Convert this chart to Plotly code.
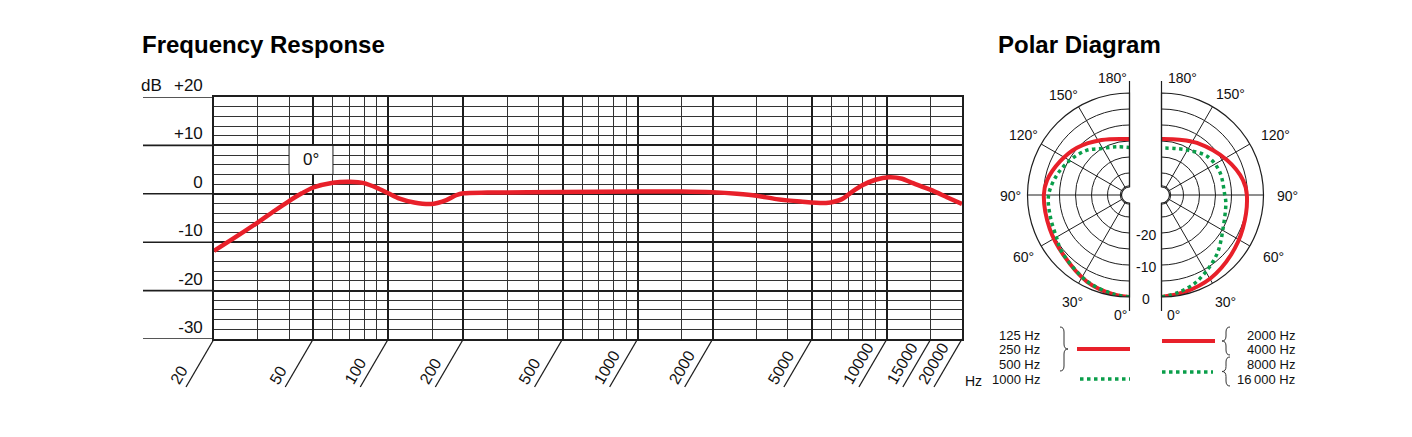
import numpy as np
import plotly.graph_objects as go

# ---------------- data ----------------
freq_hz = [20, 25, 30, 35, 40, 45, 50, 60, 70, 80, 92, 100, 111, 127, 150, 171, 187, 200,
           250, 500, 1000, 1500, 2000, 2500, 3000, 3600, 4500, 5700, 6600, 7200, 8000, 9000,
           10200, 11500, 12400, 15000, 17400, 20000]
response_db = [-11.8, -8.6, -5.9, -3.5, -1.5, 0.1, 1.3, 2.3, 2.5, 2.2, 1.0, 0.1, -1.0, -1.8, -2.1, -1.3, -0.3, 0.1,
               0.25, 0.35, 0.45, 0.45, 0.3, 0.0, -0.4, -1.1, -1.6, -1.9, -1.1, 0.3, 1.8, 2.9,
               3.4, 3.1, 2.4, 0.8, -0.7, -2.1]

freq_label_ticks = [20, 50, 100, 200, 500, 1000, 2000, 5000, 10000, 15000, 20000]
freq_major_grid = [20, 50, 100, 200, 500, 1000, 2000, 5000, 10000, 20000]
freq_minor_grid = [30, 40, 60, 70, 80, 90, 150, 300, 400, 600, 700, 800, 900, 1500,
                   3000, 4000, 6000, 7000, 8000, 9000, 15000]
db_ticks = [-30, -20, -10, 0, 10, 20]
db_ticktext = ["-30", "-20", "-10", "0", "+10", "+20"]

# polar (angle from 0 deg = front, dB)
left_red_theta = [0, 9, 26, 48, 67, 90, 100, 116, 132, 153, 180]
left_red_db = [0, -0.4, -1.7, -4.0, -4.8, -5.1, -5.7, -7.8, -9.8, -12.6, -14.4]
left_green_theta = [0, 9, 26, 50, 59, 76, 90, 105, 120, 136, 149, 165, 180]
left_green_db = [0, -0.5, -1.8, -4.25, -5.4, -6.25, -6.6, -8.3, -10.3, -12.5, -14.9, -16.3, -17.0]
right_red_theta = [0, 13.6, 30.8, 49.2, 67.9, 90, 100.4, 118.1, 145.7, 162, 180]
right_red_db = [0, -0.7, -1.7, -3.2, -4.4, -5.2, -6.0, -8.7, -12.2, -13.7, -14.4]
right_green_theta = [0, 10, 20.6, 27.4, 34, 45, 61.6, 82.7, 90, 112, 129.5, 149.5, 165, 180]
right_green_db = [0, -1.0, -2.4, -3.7, -4.9, -6.9, -10.0, -11.6, -12.1, -12.3, -13.1, -15.6, -16.8, -17.2]

polar_angle_labels = [0, 30, 60, 90, 120, 150, 180]
polar_db_labels = [0, -10, -20]
legend_left = ["125 Hz", "250 Hz", "500 Hz", "1000 Hz"]
legend_right = ["2000 Hz", "4000 Hz", "8000 Hz", "16\u2009000 Hz"]

# ---------------- layout helpers ----------------
W, H = 1412, 437
RED = "#e8202a"
GREEN = "#0a9e4a"
INK = "#1e1e1e"
FONT = "Liberation Sans, Arial, sans-serif"


def X(px):
    return px / W


def Y(py):
    return (H - py) / H


# frequency chart frame (pixels)
FX0, FX1, FY_TOP, FY_BOT = 214, 962, 97, 339
PPD = (FX1 - FX0) / 3.0          # pixels per decade
EXT = 60                          # extra pixels of the helper axis to the left
# polar geometry (pixels)
PCY, PR, PHOLE = 195, 102, 8
PCX_L, PCX_R = 1129.5, 1161.5
DB_MIN = -29.375

fig = go.Figure()

fig.add_trace(go.Scatter(
    x=freq_hz, y=response_db, mode="lines",
    line=dict(color=RED, width=4.5, shape="spline", smoothing=0.8),
    hoverinfo="skip", showlegend=False, xaxis="x", yaxis="y"))
# helper (empty) trace so the linear log10 helper axis exists
fig.add_trace(go.Scatter(x=[], y=[], xaxis="x2", yaxis="y2", showlegend=False, hoverinfo="skip"))

# polar spokes (drawn as thin traces on the polar scales)
for sub, sign in (("polar", -1), ("polar2", 1)):
    for a in polar_angle_labels:
        fig.add_trace(go.Scatterpolar(
            theta=[sign * a, sign * a], r=[DB_MIN, 0], mode="lines", subplot=sub,
            line=dict(color=INK, width=1), hoverinfo="skip", showlegend=False))

# left half uses negative angles (counter-clockwise from the bottom would go right)
for th, r, col, dash, sub in [
    ([-t for t in left_red_theta], left_red_db, RED, "solid", "polar"),
    ([-t for t in left_green_theta], left_green_db, GREEN, "dot", "polar"),
    (right_red_theta, right_red_db, RED, "solid", "polar2"),
    (right_green_theta, right_green_db, GREEN, "dot", "polar2"),
]:
    fig.add_trace(go.Scatterpolar(
        theta=th, r=r, mode="lines", subplot=sub,
        line=dict(color=col, width=4 if dash == "solid" else 3.5, dash=dash, shape="spline"),
        hoverinfo="skip", showlegend=False))


def polar_layout(tickvals, sector, x0, x1):
    return dict(
        hole=PHOLE / PR, bgcolor="white", sector=sector,
        domain=dict(x=[X(x0), X(x1)], y=[Y(PCY + PR), Y(PCY - PR)]),
        radialaxis=dict(range=[DB_MIN, 0], tickvals=[-29.0, -25, -20, -15, -10, -5],
                        showticklabels=False, ticks="", showline=False,
                        gridcolor=INK, gridwidth=1),
        angularaxis=dict(tickvals=tickvals, showticklabels=False, ticks="",
                         showline=True, linecolor=INK, linewidth=1.2,
                         showgrid=False, rotation=270, direction="counterclockwise"),
    )


left_polar = polar_layout([-a for a in polar_angle_labels], [90, 270], PCX_L - PR, PCX_L)
right_polar = polar_layout(polar_angle_labels, [-90, 90], PCX_R, PCX_R + PR)

shapes = []
annotations = []


def text(px, py, s, size=14, xa="center", ya="middle", **kw):
    return dict(x=X(px), y=Y(py), xref="paper", yref="paper", text=s, showarrow=False,
                xanchor=xa, yanchor=ya, font=dict(family=FONT, size=size, color=kw.pop("color", "#111")), **kw)


# major dB lines extend left under the labels
for v in db_ticks:
    shapes.append(dict(type="line", xref="paper", yref="y", x0=X(143), x1=X(FX0), y0=v, y1=v,
                       line=dict(color=INK, width=1.6), layer="above"))

# slanted leader lines + labels for frequencies
for f in freq_label_ticks:
    shapes.append(dict(type="line", xref="x2", yref="paper", xsizemode="pixel", ysizemode="pixel",
                       xanchor=np.log10(f), yanchor=Y(FY_BOT), x0=0, x1=-28, y0=0, y1=-48,
                       line=dict(color=INK, width=1.3)))
    annotations.append(dict(x=np.log10(f), xref="x", y=Y(390), yref="paper", text=str(f),
                            textangle=-60, xanchor="left", yanchor="bottom", xshift=-50,
                            showarrow=False, font=dict(family=FONT, size=16, color="#111")))

# 0 deg box
shapes.append(dict(type="rect", xref="x", yref="y", x0=40, x1=60, y0=4, y1=10,
                   fillcolor="white", line=dict(color=INK, width=1), layer="between"))
annotations.append(dict(x=np.log10(49), xref="x", y=7, yref="y", text="0°", showarrow=False,
                        xanchor="center", yanchor="middle",
                        font=dict(family=FONT, size=17, color="#111")))

annotations += [
    text(140, 44, "<b>Frequency Response</b>", size=24, xa="left", color="#000"),
    text(996, 44, "<b>Polar Diagram</b>", size=24, xa="left", color="#000"),
    text(139, 85, "dB", size=17, xa="left"),
    text(963, 381, "Hz", size=14, xa="left"),
]

# polar vertical axis lines (broken at the centre notch)
for cx in (PCX_L, PCX_R):
    for ya, yb in ((81, PCY - PHOLE), (PCY + PHOLE, 311)):
        shapes.append(dict(type="line", xref="paper", yref="paper", x0=X(cx), x1=X(cx),
                           y0=Y(ya), y1=Y(yb), line=dict(color=INK, width=1.2)))

# polar angle labels
left_pos = {180: (1112, 78), 150: (1063, 95), 120: (1023, 135), 90: (1011, 196),
            60: (1023, 257), 30: (1072, 302), 0: (1120, 315)}
right_pos = {180: (1182, 78), 150: (1230, 94), 120: (1275, 135), 90: (1287, 196),
             60: (1273, 257), 30: (1225, 302), 0: (1173, 315)}
for a in polar_angle_labels:
    for pos in (left_pos, right_pos):
        px, py = pos[a]
        annotations.append(text(px, py, f"{a}°", size=14))

# radial dB labels between the halves
for d in polar_db_labels:
    rpx = PHOLE + (PR - PHOLE) * (d - DB_MIN) / (0 - DB_MIN)
    annotations.append(text(1146, PCY + rpx + 2, str(d), size=14))

# polar legend
for i, t in enumerate(legend_left):
    annotations.append(text(1042, 335 + i * 14.8, t, size=13, xa="right"))
for i, t in enumerate(legend_right):
    annotations.append(text(1297, 335 + i * 14.8, t, size=13, xa="right"))

for (xa, xb, yy, col, dash, w) in [
    (1077, 1130, 349, RED, "solid", 4),
    (1162, 1215, 341, RED, "solid", 4),
    (1080, 1130, 379, GREEN, "dot", 3.5),
    (1162, 1213, 372, GREEN, "dot", 3.5),
]:
    shapes.append(dict(type="line", xref="paper", yref="paper", x0=X(xa), x1=X(xb),
                       y0=Y(yy), y1=Y(yy), line=dict(color=col, width=w, dash=dash)))


def brace(x_end, x_body, x_tip, y0, y1):
    ym = (y0 + y1) / 2
    pts = (f"M {x_end},{-y0} Q {x_body},{-y0} {x_body},{-(y0 + 5)} L {x_body},{-(ym - 5)} "
           f"Q {x_body},{-ym} {x_tip},{-ym} Q {x_body},{-ym} {x_body},{-(ym + 5)} "
           f"L {x_body},{-(y1 - 5)} Q {x_body},{-y1} {x_end},{-y1}")
    return dict(type="path", xref="paper", yref="paper", xsizemode="pixel", ysizemode="pixel",
                xanchor=0, yanchor=1, path=pts, line=dict(color="#333", width=1))


shapes.append(brace(1060, 1064, 1068, 327, 371))
shapes.append(brace(1230, 1226, 1222, 327, 355))
shapes.append(brace(1230, 1226, 1222, 357, 386))

fig.update_layout(
    width=W, height=H, autosize=False,
    margin=dict(l=0, r=0, t=0, b=0, pad=0, autoexpand=False),
    paper_bgcolor="white", plot_bgcolor="rgba(0,0,0,0)",
    showlegend=False,
    xaxis=dict(type="log", range=[np.log10(20), np.log10(20000)],
               domain=[X(FX0), X(FX1)], anchor="y", automargin=False,
               tickvals=freq_major_grid, showticklabels=False, ticks="",
               showgrid=True, gridcolor=INK, gridwidth=1.5,
               minor=dict(tickvals=freq_minor_grid, showgrid=True, gridcolor="#333", gridwidth=1, ticks=""),
               showline=True, mirror=True, linecolor=INK, linewidth=1.6, zeroline=False),
    yaxis=dict(range=[-30, 20], domain=[Y(FY_BOT), Y(FY_TOP)], anchor="x", automargin=False,
               tickvals=db_ticks, ticktext=db_ticktext, ticks="",
               tickfont=dict(family=FONT, size=17, color="#111"),
               ticklabelshift=-12, ticklabelstandoff=6,
               showgrid=True, gridcolor=INK, gridwidth=1.6,
               minor=dict(dtick=2, tick0=0, showgrid=True, gridcolor="#333", gridwidth=1, ticks=""),
               showline=True, mirror=True, linecolor=INK, linewidth=1.6, zeroline=False),
    # same log10 scale as xaxis, extended to the left so the 20 Hz leader line is not clipped
    xaxis2=dict(range=[np.log10(20) - EXT / PPD, np.log10(20000)], domain=[X(FX0 - EXT), X(FX1)],
                anchor="y2", visible=False, automargin=False, showgrid=False, zeroline=False),
    yaxis2=dict(range=[0, 1], domain=[Y(FY_BOT), Y(FY_TOP)], anchor="x2", visible=False,
                automargin=False, showgrid=False, zeroline=False),
    polar=left_polar,
    polar2=right_polar,
    shapes=shapes,
    annotations=annotations,
)

fig.write_html("out.html", config=dict(displayModeBar=False),
               post_script="document.body.style.margin='0';document.body.style.overflow='hidden';")
